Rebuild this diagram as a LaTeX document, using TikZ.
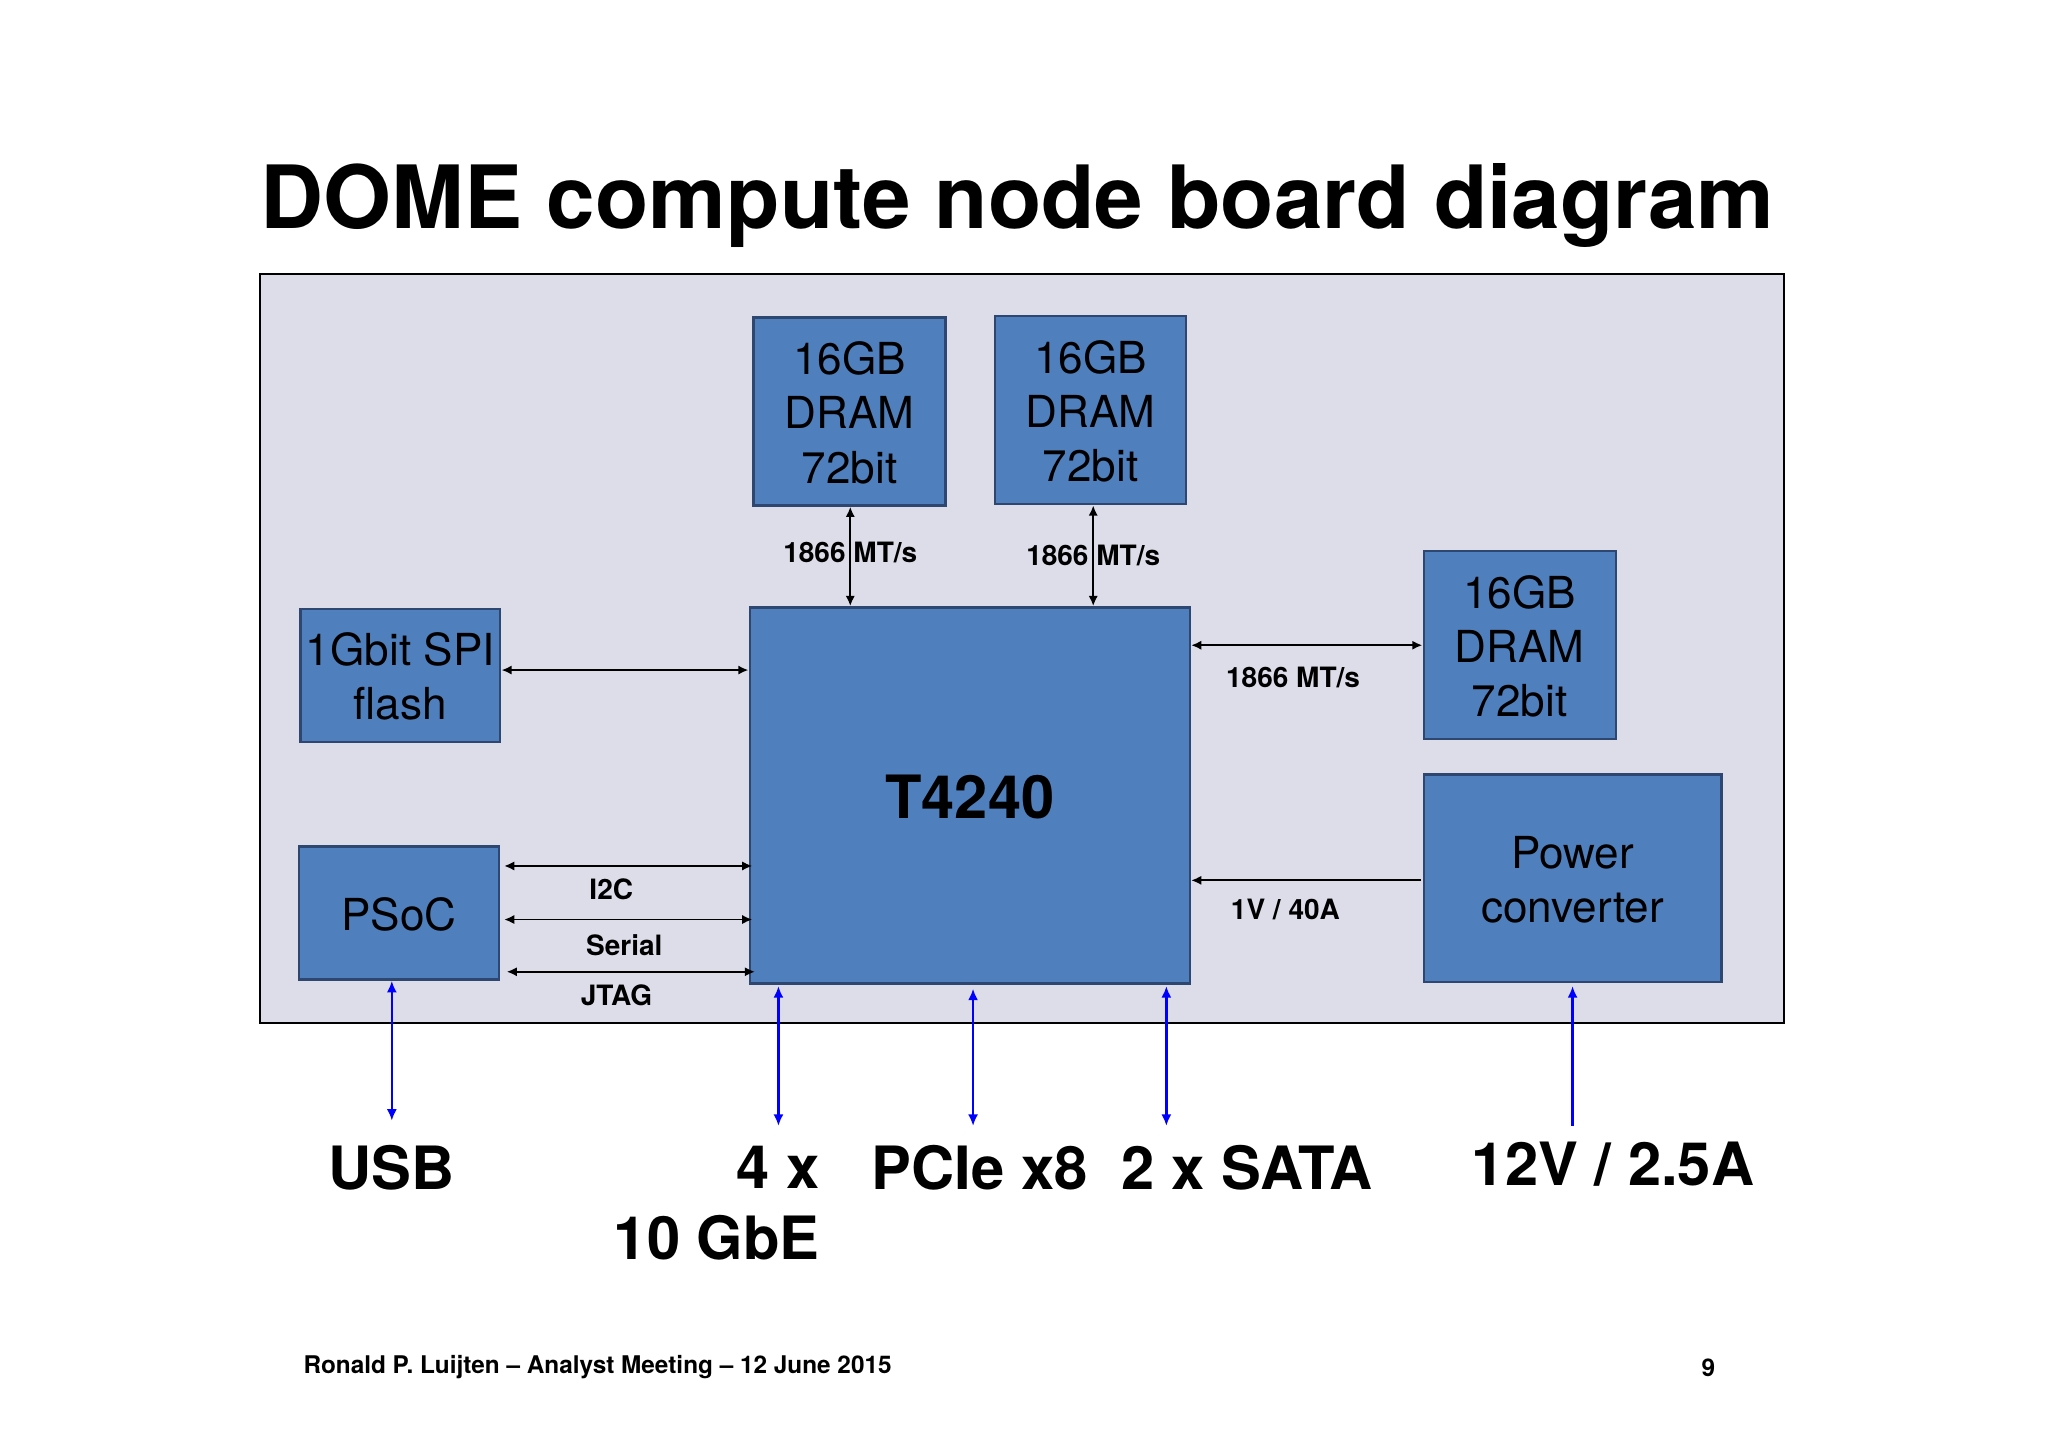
\documentclass[tikz,border=0pt]{standalone}
\usepackage{fontspec}
\setmainfont{TeX Gyre Heros}
\usetikzlibrary{arrows.meta}
\definecolor{board}{HTML}{DDDDEA}
\definecolor{blk}{HTML}{4F80BD}
\definecolor{blkb}{HTML}{2E4770}
\tikzset{
 chip/.style={draw=blkb,fill=blk,line width=0.5pt},
 btxt/.style={font=\fontsize{9.6}{11.8}\selectfont,align=center},
 lab/.style={font=\fontsize{6.1}{7}\selectfont\bfseries},
 conn/.style={line width=0.4pt,{Latex[length=2.2pt,width=2pt]}-{Latex[length=2.2pt,width=2pt]}},
 bconn/.style={blue,line width=0.5pt,{Latex[length=2.5pt,width=2.2pt]}-{Latex[length=2.5pt,width=2.2pt]}},
 big/.style={font=\fontsize{13}{15}\selectfont\bfseries},
}
\begin{document}
\begin{tikzpicture}[x=0.01cm,y=-0.01cm]
\useasboundingbox[fill=white] (0,0) rectangle (1568,1108);
\node[font=\fontsize{19}{22}\selectfont\bfseries] (title) at (779,157) {DOME compute node board diagram};
\draw[fill=board,line width=0.5pt] (199,210) rectangle (1366,783);
\draw[chip] (577,243) rectangle (724,387); \node[btxt] (d1) at (650.5,316) {16GB\\DRAM\\72bit};
\draw[chip] (762,242) rectangle (908,386); \node[btxt] (d2) at (835,315) {16GB\\DRAM\\72bit};
\draw[chip] (1090,422) rectangle (1237,566); \node[btxt] (d3) at (1163.5,495) {16GB\\DRAM\\72bit};
\draw[chip] (230,466) rectangle (383,568); \node[btxt] (spi) at (306.5,518) {1Gbit SPI\\flash};
\draw[chip] (229,648) rectangle (382,750); \node[btxt] (psoc) at (305.5,700) {PSoC};
\draw[chip] (574,465) rectangle (911,753); \node[font=\fontsize{13}{15}\selectfont\bfseries] (t) at (742.5,610) {T4240};
\draw[chip] (1090,593) rectangle (1318,752); \node[btxt] (pw) at (1204,673.5) {Power\\converter};
\coordinate (a1) at (651,388); \coordinate (b1) at (651,464);
\coordinate (a2) at (837,387); \coordinate (b2) at (837,464);
\coordinate (a3) at (912,494); \coordinate (b3) at (1089,494);
\coordinate (a4) at (384,513); \coordinate (b4) at (573,513);
\coordinate (a5) at (386,663); \coordinate (b5) at (576,663);
\coordinate (a6) at (386,704); \coordinate (b6) at (576,704);
\coordinate (a7) at (388,744); \coordinate (b7) at (578,744);
\coordinate (a8) at (1088,674); \coordinate (b8) at (912,674);
\draw[conn] (a1)--(b1); \draw[conn] (a2)--(b2); \draw[conn] (a3)--(b3);
\draw[conn] (a4)--(b4); \draw[conn] (a5)--(b5); \draw[conn] (a6)--(b6); \draw[conn] (a7)--(b7);
\draw[line width=0.4pt,-{Latex[length=2.2pt,width=2pt]}] (a8)--(b8);
\node[lab] (l1) at (651,423) {1866 MT/s};
\node[lab] (l2) at (837,425) {1866 MT/s};
\node[lab] (l3) at (990,519) {1866 MT/s};
\node[lab] (l5) at (468,681) {I2C};
\node[lab] (l6) at (478,724) {Serial};
\node[lab] (l7) at (472,762) {JTAG};
\node[lab,anchor=west] (l8) at (930,696) {1V / 40A};
\coordinate (u1) at (300,751); \coordinate (u2) at (300,858);
\coordinate (g1) at (596,755); \coordinate (g2) at (596,862);
\coordinate (p1) at (745,757); \coordinate (p2) at (745,862);
\coordinate (s1) at (893,755); \coordinate (s2) at (893,862);
\coordinate (v1) at (1204,755); \coordinate (v2) at (1204,862);
\draw[bconn] (u1)--(u2); \draw[bconn] (g1)--(g2); \draw[bconn] (p1)--(p2); \draw[bconn] (s1)--(s2);
\draw[blue,line width=0.5pt,-{Latex[length=2.5pt,width=2.2pt]}] (v2)--(v1);
\node[big] (usb) at (300,894) {USB};
\node[big,anchor=east] (ge1) at (640,894) {4 x};
\node[big,anchor=east] (ge2) at (640,948) {10 GbE};
\node[big] (pcie) at (750,894) {PCIe x8};
\node[big] (sata) at (955,894) {2 x SATA};
\node[big] (pv) at (1235,891) {12V / 2.5A};
\node[font=\fontsize{5.3}{7}\selectfont\bfseries,anchor=west] (foot) at (220,1047) {Ronald P. Luijten – Analyst Meeting – 12 June 2015};
\node[font=\fontsize{5.3}{7}\selectfont\bfseries] (pg) at (1308,1047) {9};
\end{tikzpicture}
\end{document}
